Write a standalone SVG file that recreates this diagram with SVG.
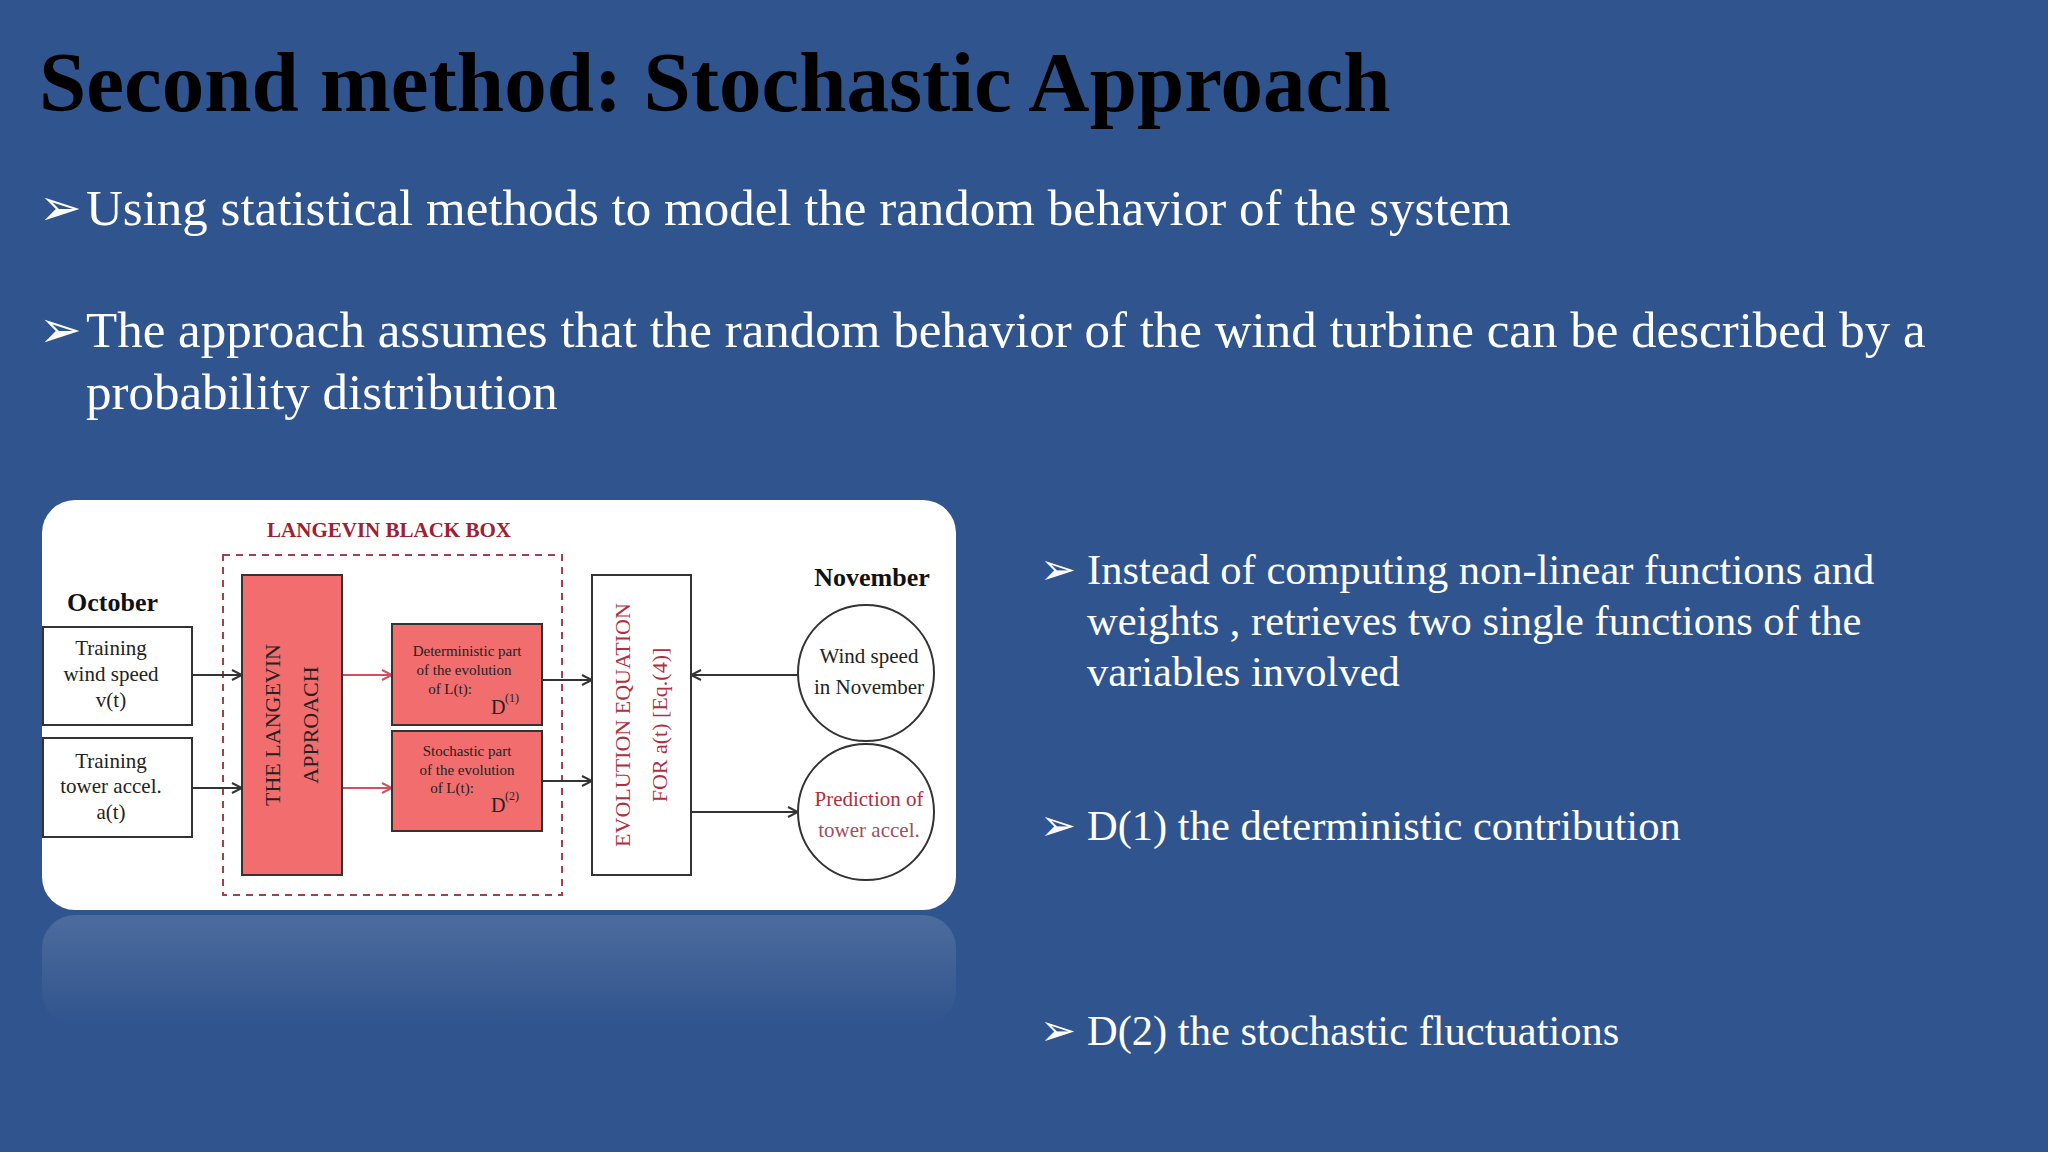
<svg xmlns="http://www.w3.org/2000/svg" width="2048" height="1152" viewBox="0 0 2048 1152">
<defs>
<marker id="ah" markerWidth="12" markerHeight="12" refX="11" refY="6" orient="auto" markerUnits="userSpaceOnUse"><path d="M1,1 L11,6 L1,11" fill="none" stroke="#333" stroke-width="2"/></marker>
<marker id="ahp" markerWidth="12" markerHeight="12" refX="11" refY="6" orient="auto" markerUnits="userSpaceOnUse"><path d="M1,1 L11,6 L1,11" fill="none" stroke="#d05060" stroke-width="2"/></marker>
<linearGradient id="refl" x1="0" y1="0" x2="0" y2="1"><stop offset="0" stop-color="#fff" stop-opacity="0.14"/><stop offset="1" stop-color="#fff" stop-opacity="0"/></linearGradient>
</defs>
<style>
.s{font-family:"Liberation Serif",serif}
.b{fill:#fff;stroke:#333;stroke-width:2}
.r{fill:#f26d6d;stroke:#333;stroke-width:2}
.ln{stroke:#333;stroke-width:2;fill:none}
.lp{stroke:#d05060;stroke-width:2;fill:none}
.t{font-family:"Liberation Serif",serif;font-size:21px;fill:#222;text-anchor:middle}
.sm{font-family:"Liberation Serif",serif;font-size:15px;fill:#222;text-anchor:middle}
.rv{font-family:"Liberation Serif",serif;font-size:22px;text-anchor:middle}
</style>
<rect width="2048" height="1152" fill="#30548e"/>
<text class="s" x="39" y="111" font-size="85" font-weight="bold" fill="#000">Second method: Stochastic Approach</text>
<g class="s" font-size="51" fill="#fff">
<text x="39" y="225">➢</text><text x="86" y="225">Using statistical methods to model the random behavior of the system</text>
<text x="39" y="347">➢</text><text x="86" y="347">The approach assumes that the random behavior of the wind turbine can be described by a</text>
<text x="86" y="409">probability distribution</text>
</g>
<g class="s" font-size="42.5" fill="#fff">
<text x="1040" y="584">➢</text><text x="1087" y="584">Instead of computing non-linear functions and</text>
<text x="1087" y="635">weights , retrieves two single functions of the</text>
<text x="1087" y="686">variables involved</text>
<text x="1040" y="840">➢</text><text x="1087" y="840">D(1) the deterministic contribution</text>
<text x="1040" y="1045">➢</text><text x="1087" y="1045">D(2) the stochastic fluctuations</text>
</g>
<rect x="42" y="915" width="914" height="110" rx="33" fill="url(#refl)"/>
<rect x="42" y="500" width="914" height="410" rx="33" fill="#fff"/>
<text class="s" x="389" y="537" font-size="21" font-weight="bold" fill="#a02030" text-anchor="middle">LANGEVIN BLACK BOX</text>
<rect x="223" y="555" width="339" height="340" fill="none" stroke="#a04050" stroke-width="2" stroke-dasharray="7,6"/>
<text class="s" x="67" y="611" font-size="26" font-weight="bold" fill="#111">October</text>
<text class="s" x="872" y="586" font-size="26" font-weight="bold" fill="#111" text-anchor="middle">November</text>
<g id="connectors">
<line class="ln" x1="192" y1="675" x2="242" y2="675" marker-end="url(#ah)"/>
<line class="ln" x1="192" y1="788" x2="242" y2="788" marker-end="url(#ah)"/>
<line class="lp" x1="342" y1="675" x2="392" y2="675" marker-end="url(#ahp)"/>
<line class="lp" x1="342" y1="788" x2="392" y2="788" marker-end="url(#ahp)"/>
<line class="ln" x1="542" y1="680" x2="592" y2="680" marker-end="url(#ah)"/>
<line class="ln" x1="542" y1="781" x2="592" y2="781" marker-end="url(#ah)"/>
<line class="ln" x1="798" y1="675" x2="691" y2="675" marker-end="url(#ah)"/>
<line class="ln" x1="691" y1="812" x2="798" y2="812" marker-end="url(#ah)"/>
</g>
<g id="train-wind"><rect class="b" x="43" y="627" width="149" height="98"/>
<text class="t" x="111" y="655">Training</text><text class="t" x="111" y="681">wind speed</text><text class="t" x="111" y="707">v(t)</text></g>
<g id="train-accel"><rect class="b" x="43" y="738" width="149" height="99"/>
<text class="t" x="111" y="768">Training</text><text class="t" x="111" y="793">tower accel.</text><text class="t" x="111" y="819">a(t)</text></g>
<g id="langevin"><rect class="r" x="242" y="575" width="100" height="300"/>
<text class="rv" fill="#222" transform="translate(280,725) rotate(-90)">THE LANGEVIN</text>
<text class="rv" fill="#222" transform="translate(318,725) rotate(-90)">APPROACH</text></g>
<g id="det"><rect class="r" x="392" y="624" width="150" height="101"/>
<text class="sm" x="467" y="656">Deterministic part</text><text class="sm" x="464" y="675">of the evolution</text><text class="sm" x="450" y="694">of L(t):</text>
<text class="s" x="491" y="714" font-size="20" fill="#222">D</text><text class="s" x="505" y="702" font-size="12" fill="#222">(1)</text></g>
<g id="stoch"><rect class="r" x="392" y="731" width="150" height="100"/>
<text class="sm" x="467" y="756">Stochastic part</text><text class="sm" x="467" y="775">of the evolution</text><text class="sm" x="452" y="793">of L(t):</text>
<text class="s" x="491" y="812" font-size="20" fill="#222">D</text><text class="s" x="505" y="800" font-size="12" fill="#222">(2)</text></g>
<g id="evolution"><rect class="b" x="592" y="575" width="99" height="300"/>
<text class="rv" fill="#b03040" transform="translate(630,725) rotate(-90)">EVOLUTION EQUATION</text>
<text class="rv" fill="#b03040" transform="translate(667,725) rotate(-90)">FOR a(t)  [Eq.(4)]</text></g>
<g id="wind-nov"><circle class="b" cx="866" cy="673" r="68"/>
<text class="t" x="869" y="663">Wind speed</text><text class="t" x="869" y="694">in November</text></g>
<g id="prediction"><circle class="b" cx="866" cy="812" r="68"/>
<text class="t" x="869" y="806" style="fill:#b03040">Prediction of</text><text class="t" x="869" y="837" style="fill:#a05060">tower accel.</text></g>
</svg>
